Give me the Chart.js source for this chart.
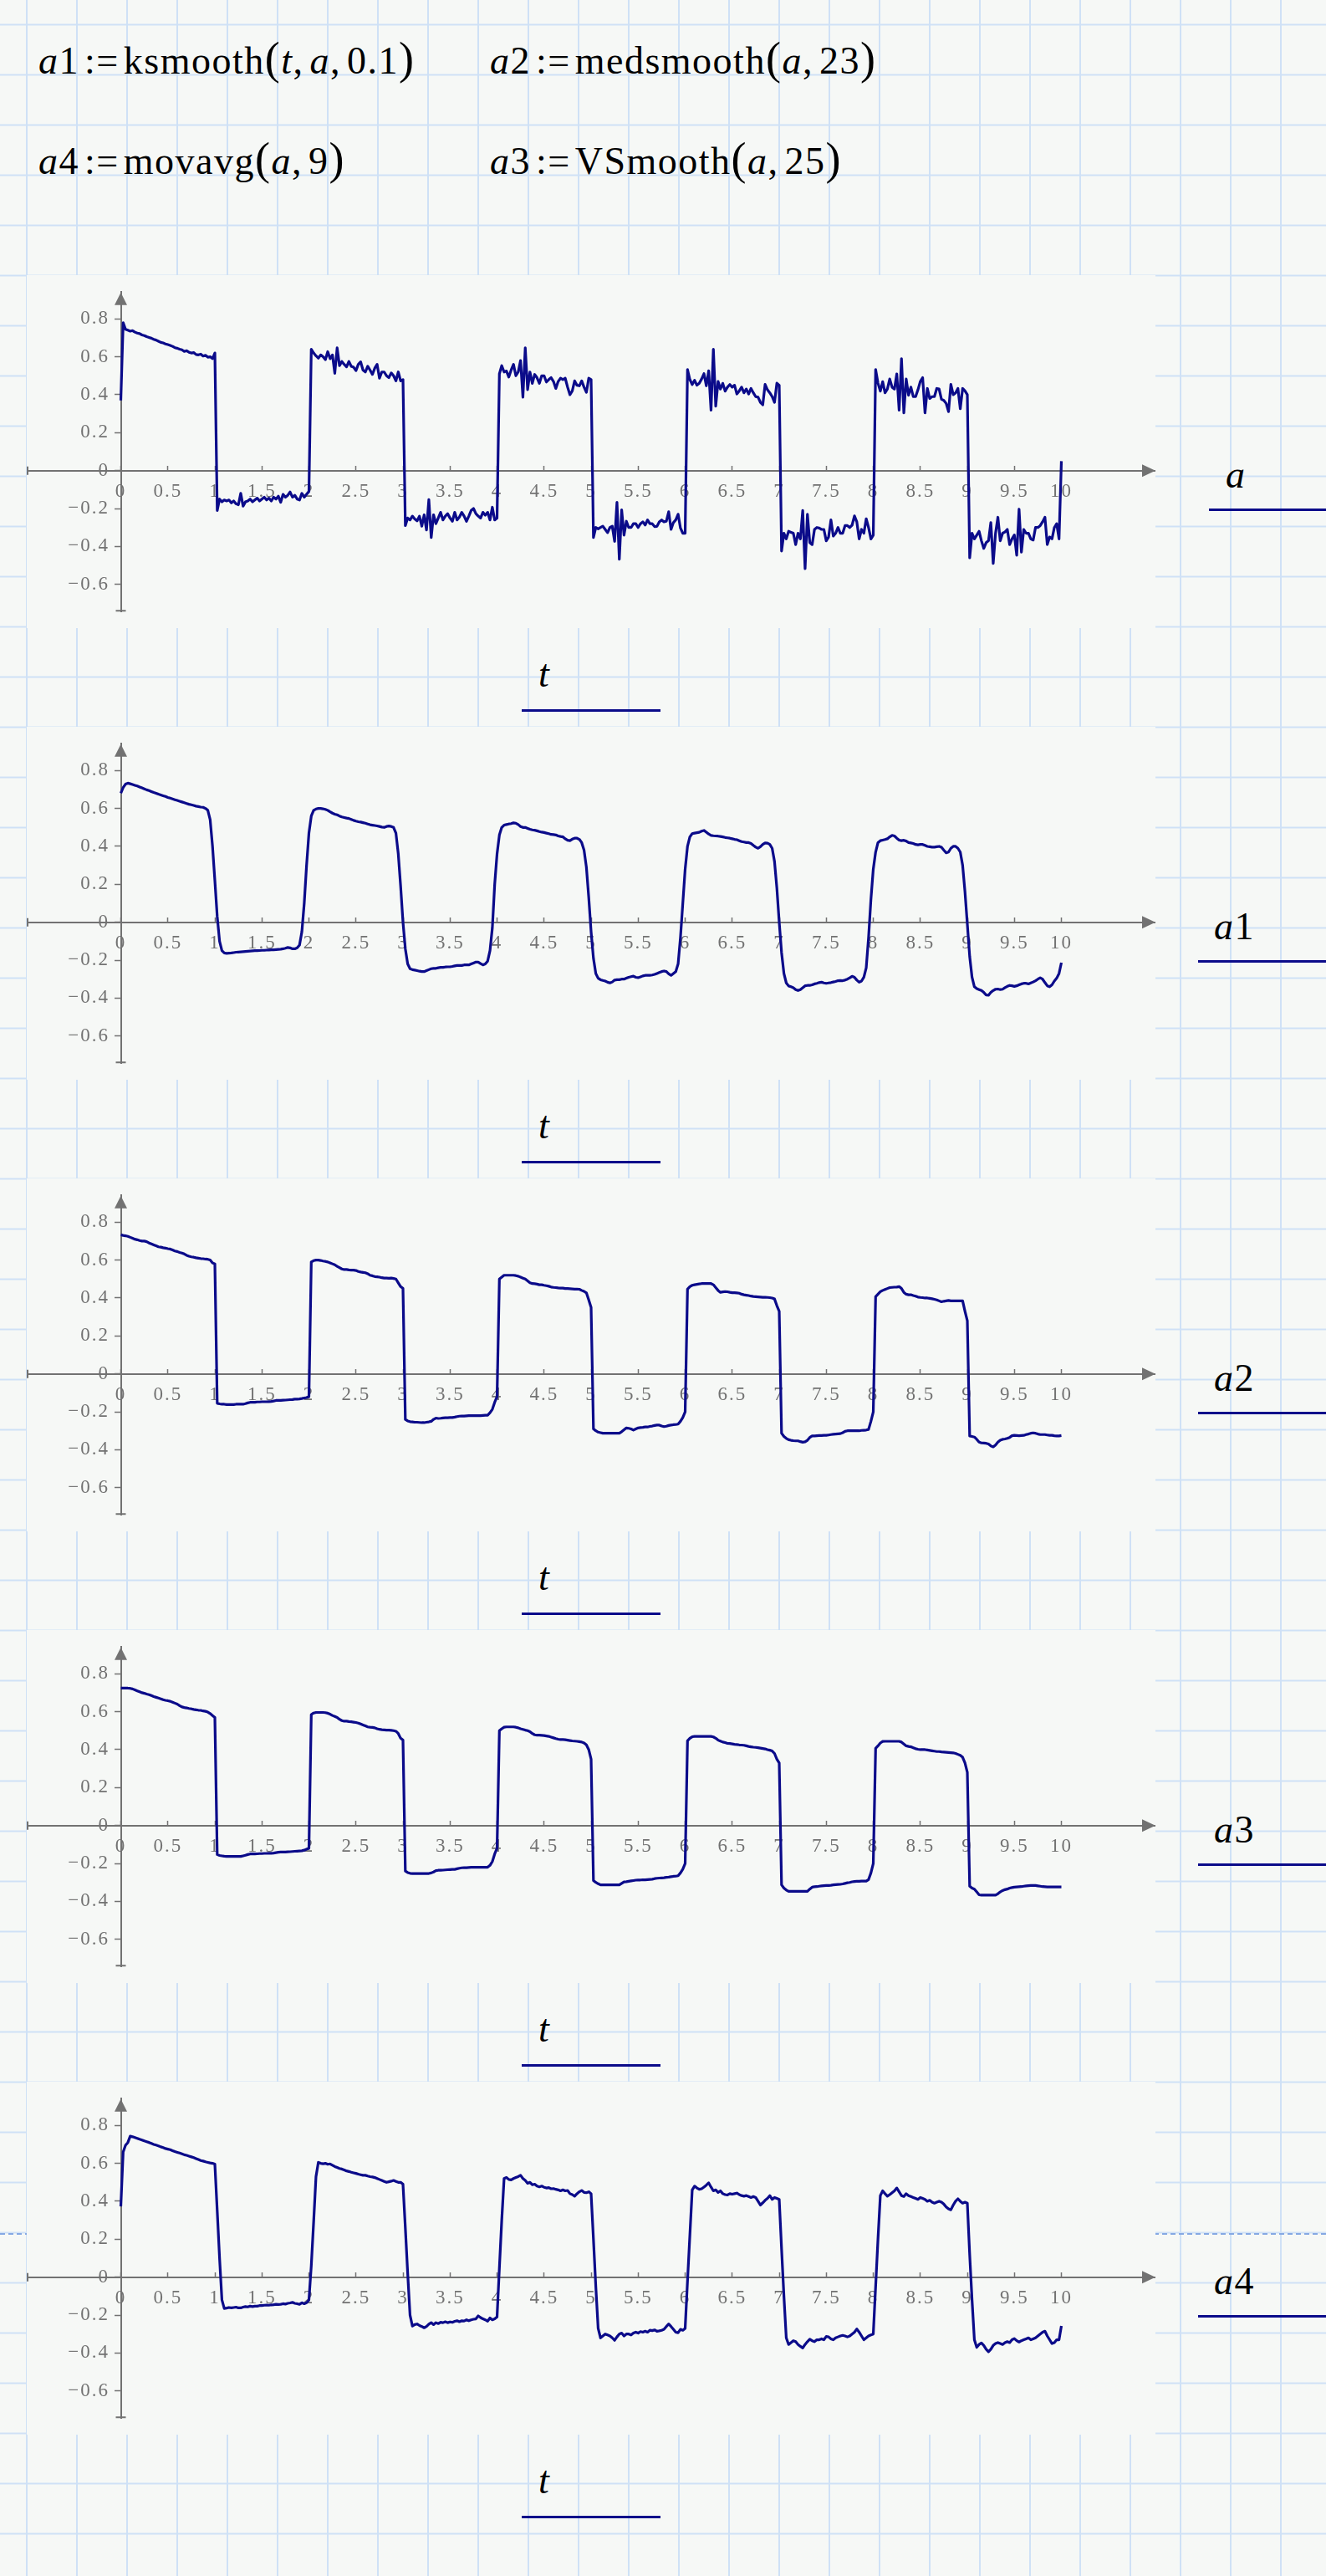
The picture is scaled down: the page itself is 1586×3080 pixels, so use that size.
<!DOCTYPE html>
<html>
<head>
<meta charset="utf-8">
<title>Smoothing</title>
<script src="https://cdn.jsdelivr.net/npm/chart.js@4.4.1/dist/chart.umd.min.js"></script>
<style>
  html, body { margin: 0; padding: 0; }
  body {
    width: 1586px; height: 3080px; position: relative; overflow: hidden;
    background-color: #f6f8f6;
    background-image:
      linear-gradient(to right, #cfe1f6 0, #cfe1f6 1.6px, transparent 1.6px),
      linear-gradient(to bottom, #cfe1f6 0, #cfe1f6 1.6px, transparent 1.6px);
    background-size: 60px 60px;
    background-position: 31px 28.5px;
    font-family: 'Liberation Serif', 'Times New Roman', serif;
    color: #000;
  }
  .eq, .lbl { position: absolute; font-size: 46px; line-height: 46px; white-space: nowrap; letter-spacing: 1.5px; }
  .op { margin: 0 5px 0 6px; }
  .par { font-size: 54px; line-height: 0; }
  .cm { margin-right: 7px; }
  .panel { position: absolute; left: 32px; width: 1350px; height: 422px; background: #f6f8f6; }
  .panel canvas { display: block; }
  .uline { position: absolute; height: 3px; background: #0b0b8a; }
  .pagebreak { position: absolute; left: 0; width: 1586px; top: 2670px; border-top: 2px dashed #86a9e4; }
</style>
</head>
<body>

<div class="eq" style="left:46px;top:50px"><i>a</i>1<span class="op">:=</span>ksmooth<span class="par">(</span><i>t</i><span class="cm">,</span><i>a</i><span class="cm">,</span>0.1<span class="par">)</span></div>
<div class="eq" style="left:586px;top:50px"><i>a</i>2<span class="op">:=</span>medsmooth<span class="par">(</span><i>a</i><span class="cm">,</span>23<span class="par">)</span></div>
<div class="eq" style="left:46px;top:170px"><i>a</i>4<span class="op">:=</span>movavg<span class="par">(</span><i>a</i><span class="cm">,</span>9<span class="par">)</span></div>
<div class="eq" style="left:586px;top:170px"><i>a</i>3<span class="op">:=</span>VSmooth<span class="par">(</span><i>a</i><span class="cm">,</span>25<span class="par">)</span></div>

<div class="pagebreak"></div>

<script>
// sampling step of the t axis (0 .. 10)
const T_STEP = 0.025;

// raw signal a, one row per unit of t
const A_RAW = [
  .37,.78,.745,.74,.735,.738,.73,.725,.722,.715,.712,.706,.702,.698,.692,.688,.682,.676,.673,.668,.664,.66,.655,.648,.645,.64,.637,.628,.632,.624,.62,.622,.612,.61,.614,.604,.608,.598,.6,.59,
  .62,-.21,-.15,-.165,-.155,-.16,-.155,-.17,-.16,-.175,-.18,-.12,-.187,-.165,-.16,-.15,-.165,-.155,-.145,-.16,-.15,-.14,-.155,-.145,-.16,-.14,-.15,-.135,-.167,-.125,-.14,-.13,-.113,-.14,-.13,-.15,-.155,-.12,-.14,-.125,
  -.11,.64,.62,.605,.593,.61,.6,.585,.627,.59,.61,.513,.647,.553,.575,.56,.547,.575,.55,.545,.527,.56,.573,.53,.52,.55,.53,.507,.54,.56,.487,.52,.52,.5,.49,.515,.5,.473,.52,.473,
  .48,-.29,-.25,-.26,-.24,-.255,-.265,-.24,-.293,-.233,-.313,-.153,-.353,-.233,-.28,-.25,-.22,-.26,-.24,-.227,-.25,-.267,-.22,-.26,-.245,-.22,-.24,-.267,-.24,-.21,-.2,-.227,-.24,-.25,-.22,-.235,-.22,-.26,-.193,-.26,
  -.25,.51,.553,.52,.525,.493,.53,.56,.5,.52,.58,.387,.647,.427,.52,.46,.507,.49,.46,.5,.5,.467,.48,.49,.47,.433,.47,.487,.48,.487,.44,.4,.42,.473,.45,.447,.473,.44,.413,.487,
  .48,-.353,-.3,-.307,-.3,-.293,-.31,-.327,-.3,-.293,-.373,-.167,-.467,-.207,-.34,-.267,-.3,-.3,-.28,-.28,-.3,-.28,-.27,-.287,-.26,-.28,-.28,-.295,-.294,-.27,-.26,-.27,-.267,-.217,-.31,-.274,-.26,-.23,-.303,-.33,
  -.33,.533,.48,.454,.476,.45,.46,.483,.511,.447,.526,.319,.64,.34,.47,.43,.46,.419,.44,.454,.44,.45,.404,.42,.44,.41,.43,.404,.433,.41,.39,.387,.36,.347,.454,.426,.41,.39,.36,.461,
  .45,-.424,-.33,-.36,-.32,-.325,-.33,-.39,-.33,-.36,-.21,-.517,-.23,-.38,-.39,-.31,-.3,-.303,-.31,-.31,-.37,-.35,-.26,-.345,-.33,-.3,-.33,-.33,-.29,-.29,-.3,-.287,-.239,-.27,-.36,-.31,-.33,-.254,-.3,-.36,
  -.34,.533,.461,.419,.469,.41,.43,.483,.44,.43,.51,.319,.59,.304,.483,.397,.44,.39,.39,.426,.47,.49,.304,.433,.38,.39,.39,.433,.43,.376,.37,.354,.311,.454,.4,.41,.433,.326,.433,.42,
  .4,-.46,-.33,-.36,-.34,-.32,-.37,-.41,-.38,-.37,-.274,-.489,-.33,-.246,-.37,-.33,-.324,-.31,-.39,-.36,-.339,-.446,-.203,-.43,-.31,-.33,-.33,-.36,-.366,-.3,-.3,-.29,-.27,-.246,-.39,-.35,-.36,-.3,-.28,-.36,
  .05
];

// a1 := ksmooth(t, a, 0.1)
const A1 = [
  .68,.71,.728,.733,.73,.726,.722,.718,.713,.708,.703,.698,.694,.689,.684,.68,.675,.671,.667,.663,.658,.654,.65,.646,.642,.638,.634,.63,.626,.622,.619,.616,.612,.61,.607,.606,.6,.59,.54,.4,
  .22,.03,-.1,-.15,-.162,-.164,-.163,-.162,-.16,-.158,-.157,-.156,-.155,-.154,-.153,-.152,-.151,-.15,-.15,-.149,-.148,-.148,-.147,-.146,-.145,-.145,-.144,-.143,-.142,-.14,-.137,-.133,-.135,-.14,-.14,-.135,-.12,-.05,.1,.3,
  .47,.56,.59,.597,.6,.6,.598,.595,.59,.582,.575,.57,.566,.56,.555,.552,.549,.547,.542,.537,.533,.53,.528,.525,.522,.518,.514,.512,.51,.508,.505,.502,.5,.505,.507,.505,.5,.47,.36,.19,
  0,-.14,-.22,-.245,-.25,-.252,-.255,-.258,-.26,-.26,-.255,-.25,-.245,-.243,-.243,-.24,-.238,-.238,-.236,-.235,-.235,-.233,-.23,-.228,-.228,-.228,-.225,-.225,-.225,-.22,-.215,-.21,-.21,-.218,-.225,-.22,-.205,-.15,-.03,.2,
  .36,.46,.5,.512,.515,.518,.52,.524,.522,.515,.505,.5,.5,.495,.49,.487,.485,.482,.478,.475,.473,.47,.467,.463,.462,.46,.455,.452,.45,.44,.432,.43,.438,.443,.443,.437,.42,.38,.29,.13,
  -.05,-.19,-.27,-.295,-.303,-.307,-.31,-.316,-.32,-.315,-.305,-.303,-.303,-.3,-.3,-.295,-.29,-.287,-.284,-.29,-.292,-.288,-.283,-.28,-.28,-.28,-.278,-.275,-.27,-.265,-.26,-.257,-.26,-.272,-.28,-.27,-.26,-.22,-.08,.1,
  .28,.4,.45,.467,.47,.472,.474,.48,.484,.475,.465,.458,.456,.455,.454,.452,.45,.447,.445,.443,.44,.437,.435,.43,.425,.423,.42,.42,.415,.405,.396,.39,.398,.41,.418,.417,.41,.39,.32,.18,
  0,-.16,-.27,-.32,-.336,-.34,-.345,-.355,-.36,-.355,-.345,-.335,-.333,-.333,-.33,-.325,-.322,-.318,-.316,-.32,-.322,-.32,-.318,-.315,-.312,-.308,-.307,-.308,-.305,-.3,-.293,-.285,-.29,-.305,-.316,-.31,-.29,-.24,-.08,.12,
  .28,.37,.42,.43,.433,.436,.44,.45,.458,.455,.443,.433,.43,.432,.428,.42,.418,.415,.41,.408,.41,.41,.405,.4,.398,.396,.396,.398,.4,.395,.38,.366,.37,.39,.4,.4,.39,.37,.3,.16,
  -.01,-.18,-.29,-.34,-.35,-.355,-.36,-.37,-.383,-.385,-.37,-.36,-.353,-.352,-.355,-.353,-.345,-.338,-.333,-.335,-.338,-.335,-.33,-.325,-.322,-.322,-.325,-.32,-.315,-.308,-.3,-.293,-.3,-.318,-.335,-.34,-.33,-.31,-.295,-.27,
  -.213
];

// a2 := medsmooth(a, 23)
const A2 = [
  .733,.73,.728,.725,.72,.715,.71,.707,.703,.7,.7,.697,.69,.685,.68,.675,.67,.668,.665,.663,.66,.658,.653,.648,.645,.64,.637,.632,.625,.62,.617,.615,.612,.61,.608,.607,.605,.604,.6,.585,
  .58,-.155,-.158,-.16,-.16,-.162,-.162,-.162,-.162,-.16,-.16,-.16,-.16,-.157,-.153,-.15,-.15,-.15,-.148,-.148,-.147,-.147,-.147,-.146,-.145,-.143,-.14,-.14,-.14,-.139,-.138,-.137,-.136,-.135,-.133,-.133,-.132,-.13,-.127,-.125,
  -.12,.59,.597,.6,.6,.598,.595,.593,.59,.585,.58,.575,.567,.56,.553,.55,.55,.548,.547,.547,.545,.54,.537,.535,.533,.528,.52,.517,.513,.512,.51,.507,.505,.505,.504,.505,.503,.5,.48,.46,
  .45,-.24,-.248,-.252,-.253,-.255,-.255,-.256,-.257,-.257,-.255,-.253,-.25,-.24,-.233,-.235,-.234,-.232,-.231,-.231,-.23,-.23,-.228,-.225,-.223,-.222,-.222,-.221,-.22,-.22,-.22,-.22,-.22,-.22,-.219,-.218,-.218,-.205,-.187,-.15,
  -.12,.5,.51,.52,.52,.52,.52,.52,.518,.515,.51,.505,.5,.49,.48,.476,.475,.473,.47,.47,.467,.465,.462,.458,.456,.455,.453,.452,.452,.45,.45,.449,.448,.447,.447,.446,.44,.435,.427,.39,
  .35,-.29,-.3,-.307,-.31,-.313,-.313,-.313,-.313,-.313,-.313,-.313,-.313,-.305,-.295,-.285,-.287,-.29,-.296,-.29,-.285,-.283,-.282,-.28,-.28,-.277,-.275,-.272,-.27,-.27,-.275,-.278,-.276,-.272,-.27,-.268,-.267,-.265,-.25,-.23,
  -.2,.447,.46,.467,.47,.472,.474,.476,.476,.476,.476,.476,.47,.455,.44,.43,.432,.434,.433,.43,.428,.428,.427,.425,.42,.417,.415,.413,.41,.408,.407,.406,.405,.404,.404,.403,.402,.4,.395,.36,
  .33,-.313,-.33,-.34,-.347,-.35,-.352,-.353,-.353,-.357,-.36,-.358,-.35,-.335,-.327,-.327,-.326,-.325,-.325,-.324,-.324,-.322,-.32,-.318,-.317,-.316,-.315,-.31,-.303,-.3,-.3,-.3,-.3,-.3,-.3,-.298,-.297,-.296,-.293,-.25,
  -.2,.407,.42,.433,.44,.445,.45,.455,.456,.457,.458,.46,.45,.43,.42,.417,.417,.413,.41,.405,.403,.402,.4,.4,.398,.396,.393,.39,.385,.38,.383,.385,.387,.385,.385,.385,.385,.385,.385,.33,
  .28,-.327,-.33,-.333,-.345,-.36,-.364,-.365,-.366,-.37,-.38,-.385,-.375,-.36,-.35,-.345,-.343,-.34,-.335,-.326,-.324,-.325,-.326,-.325,-.324,-.32,-.317,-.313,-.311,-.313,-.317,-.32,-.32,-.32,-.322,-.324,-.324,-.326,-.327,-.327,
  -.325
];

// a3 := VSmooth(a, 25)
const A3 = [
  .724,.724,.724,.724,.723,.72,.715,.71,.705,.7,.697,.693,.69,.685,.68,.676,.672,.668,.663,.66,.658,.655,.65,.645,.64,.632,.625,.622,.62,.617,.615,.612,.61,.608,.607,.604,.602,.598,.59,.58,
  .57,-.153,-.158,-.16,-.162,-.163,-.163,-.163,-.163,-.163,-.163,-.163,-.16,-.157,-.153,-.15,-.15,-.15,-.149,-.148,-.148,-.147,-.147,-.146,-.146,-.145,-.143,-.141,-.14,-.14,-.14,-.139,-.138,-.137,-.136,-.135,-.134,-.133,-.13,-.125,
  -.12,.585,.593,.596,.596,.596,.596,.595,.592,.587,.58,.575,.57,.56,.553,.55,.55,.548,.547,.545,.543,.54,.535,.53,.525,.52,.518,.517,.515,.51,.507,.505,.504,.503,.503,.502,.5,.497,.485,.46,
  .45,-.24,-.248,-.252,-.253,-.253,-.253,-.253,-.253,-.253,-.253,-.253,-.25,-.245,-.238,-.236,-.236,-.235,-.234,-.233,-.232,-.231,-.231,-.228,-.225,-.223,-.222,-.222,-.221,-.22,-.22,-.22,-.22,-.22,-.22,-.22,-.22,-.21,-.19,-.15,
  -.12,.5,.51,.518,.52,.52,.52,.52,.518,.515,.51,.507,.503,.5,.495,.485,.478,.476,.476,.475,.474,.472,.47,.466,.462,.458,.455,.453,.453,.452,.45,.448,.446,.445,.444,.442,.44,.435,.425,.4,
  .35,-.29,-.3,-.307,-.313,-.313,-.313,-.313,-.313,-.313,-.313,-.313,-.313,-.305,-.297,-.296,-.294,-.292,-.29,-.288,-.287,-.287,-.286,-.286,-.285,-.284,-.283,-.28,-.278,-.277,-.276,-.275,-.273,-.272,-.27,-.268,-.267,-.265,-.25,-.23,
  -.2,.447,.46,.468,.47,.47,.47,.47,.47,.47,.47,.47,.467,.46,.45,.445,.44,.437,.433,.432,.43,.428,.427,.425,.424,.423,.42,.417,.415,.413,.412,.41,.408,.406,.404,.4,.397,.393,.38,.35,
  .33,-.313,-.33,-.34,-.347,-.347,-.347,-.347,-.347,-.347,-.347,-.347,-.347,-.335,-.325,-.323,-.322,-.32,-.318,-.317,-.316,-.316,-.315,-.313,-.312,-.311,-.31,-.308,-.305,-.302,-.3,-.297,-.295,-.294,-.294,-.293,-.293,-.293,-.285,-.25,
  -.2,.407,.42,.435,.443,.444,.444,.444,.444,.444,.444,.444,.44,.43,.42,.417,.415,.41,.405,.402,.4,.4,.4,.398,.396,.394,.392,.39,.39,.388,.387,.386,.385,.384,.383,.38,.375,.37,.36,.33,
  .28,-.32,-.33,-.335,-.35,-.365,-.367,-.367,-.367,-.367,-.367,-.367,-.367,-.36,-.35,-.343,-.338,-.335,-.33,-.327,-.325,-.324,-.323,-.322,-.32,-.318,-.317,-.316,-.316,-.316,-.318,-.32,-.322,-.323,-.324,-.324,-.324,-.324,-.324,-.324,
  -.324
];

// a4 := movavg(a, 9)
const A4 = [
  .373,.66,.695,.71,.743,.74,.736,.732,.727,.723,.718,.714,.71,.705,.7,.696,.692,.687,.683,.678,.675,.672,.667,.662,.658,.654,.65,.645,.642,.638,.634,.63,.625,.62,.615,.612,.608,.605,.602,.6,
  .596,.35,.1,-.12,-.165,-.163,-.16,-.162,-.16,-.158,-.162,-.162,-.158,-.155,-.157,-.153,-.155,-.153,-.153,-.15,-.15,-.148,-.147,-.148,-.146,-.145,-.143,-.144,-.143,-.14,-.142,-.138,-.136,-.133,-.138,-.14,-.143,-.135,-.14,-.135,
  -.12,.06,.29,.53,.605,.6,.598,.6,.595,.597,.59,.583,.578,.573,.57,.565,.56,.557,.553,.55,.547,.543,.54,.537,.537,.533,.53,.528,.525,.52,.515,.51,.505,.5,.503,.506,.51,.505,.5,.5,
  .49,.26,.02,-.2,-.258,-.25,-.247,-.255,-.26,-.267,-.26,-.248,-.24,-.25,-.24,-.245,-.238,-.24,-.235,-.24,-.236,-.238,-.233,-.23,-.235,-.23,-.231,-.225,-.23,-.225,-.222,-.22,-.204,-.213,-.22,-.225,-.232,-.215,-.225,-.22,
  -.21,.05,.3,.52,.525,.515,.513,.52,.525,.53,.537,.52,.51,.495,.5,.487,.49,.48,.476,.48,.474,.47,.472,.466,.467,.463,.46,.455,.46,.455,.457,.44,.435,.427,.44,.45,.457,.447,.445,.45,
  .44,.2,-.05,-.27,-.32,-.31,-.3,-.305,-.31,-.32,-.333,-.315,-.3,-.295,-.31,-.3,-.3,-.305,-.295,-.29,-.295,-.287,-.29,-.285,-.29,-.28,-.282,-.278,-.285,-.283,-.28,-.275,-.26,-.247,-.26,-.275,-.29,-.293,-.275,-.28,
  -.27,-.02,.22,.46,.48,.47,.463,.466,.475,.485,.497,.475,.455,.46,.447,.455,.44,.435,.433,.44,.437,.44,.443,.435,.43,.427,.43,.425,.42,.425,.42,.4,.38,.392,.405,.415,.43,.41,.42,.415,
  .41,.15,-.1,-.32,-.355,-.345,-.335,-.34,-.355,-.365,-.373,-.355,-.34,-.327,-.335,-.34,-.33,-.33,-.325,-.33,-.313,-.315,-.325,-.33,-.32,-.315,-.31,-.307,-.31,-.315,-.31,-.3,-.29,-.273,-.29,-.31,-.33,-.32,-.31,-.305,
  -.3,-.05,.2,.43,.455,.44,.427,.435,.445,.455,.47,.45,.43,.425,.44,.43,.425,.42,.415,.41,.42,.415,.41,.4,.405,.395,.39,.395,.4,.395,.385,.37,.36,.355,.38,.4,.413,.4,.39,.395,
  .39,.12,-.12,-.33,-.37,-.355,-.347,-.36,-.38,-.393,-.38,-.36,-.35,-.345,-.35,-.355,-.345,-.34,-.345,-.33,-.324,-.335,-.342,-.335,-.33,-.325,-.32,-.33,-.325,-.32,-.31,-.3,-.29,-.285,-.31,-.33,-.35,-.345,-.33,-.33,
  -.257
];

// axis ticks and ranges
const X_TICKS = [0, 0.5, 1, 1.5, 2, 2.5, 3, 3.5, 4, 4.5, 5, 5.5, 6, 6.5, 7, 7.5, 8, 8.5, 9, 9.5, 10];
const Y_TICKS = [-0.6, -0.4, -0.2, 0, 0.2, 0.4, 0.6, 0.8];
const X_MIN = -1, X_MAX = 11;
const Y_MIN = -0.743, Y_MAX = 0.943;

// plot names, top to bottom
const PLOT_NAMES = ['a', 'a1', 'a2', 'a3', 'a4'];
const PLOT_SERIES = [A_RAW, A1, A2, A3, A4];

const LINE_COLOR = '#0b0b8a';
const AXIS_COLOR = '#727272';
const TICK_FONT = { family: "'Liberation Serif', serif", size: 23 };
const PLOT_TOP = 329;
const PLOT_GAP = 540;

function tickText(v) {
    if (v === 0) return '0';
    return (v < 0 ? '\u2212' : '') + String(Math.abs(v));
}

// arrows and end caps on the axes
const axisDecor = {
    id: 'axisDecor',
    beforeDraw(chart) {
        chart.ctx.letterSpacing = '2px';
    },
    afterDraw(chart) {
        const ctx = chart.ctx;
        const sx = chart.scales.x, sy = chart.scales.y;
        const x0 = sx.getPixelForValue(0), y0 = sy.getPixelForValue(0);
        const xa = sx.getPixelForValue(X_MIN), xb = sx.getPixelForValue(X_MAX);
        const ya = sy.getPixelForValue(Y_MIN), yb = sy.getPixelForValue(Y_MAX);
        ctx.save();
        ctx.fillStyle = AXIS_COLOR;
        ctx.strokeStyle = AXIS_COLOR;
        ctx.lineWidth = 2;
        ctx.beginPath();
        ctx.moveTo(xb, y0);
        ctx.lineTo(xb - 16, y0 - 7.5);
        ctx.lineTo(xb - 16, y0 + 7.5);
        ctx.closePath();
        ctx.fill();
        ctx.beginPath();
        ctx.moveTo(x0, yb + 1);
        ctx.lineTo(x0 - 7.5, yb + 16);
        ctx.lineTo(x0 + 7.5, yb + 16);
        ctx.closePath();
        ctx.fill();
        ctx.beginPath();
        ctx.moveTo(xa + 1, y0 - 5);
        ctx.lineTo(xa + 1, y0 + 5);
        ctx.moveTo(x0 - 6, ya - 1);
        ctx.lineTo(x0 + 6, ya - 1);
        ctx.stroke();
        ctx.restore();
    }
};

function makePlot(k) {
    const top = PLOT_TOP + k * PLOT_GAP;
    const values = PLOT_SERIES[k];
    const points = values.map((v, i) => ({ x: i * T_STEP, y: v }));

    const panel = document.createElement('div');
    panel.className = 'panel';
    panel.style.top = top + 'px';
    const canvas = document.createElement('canvas');
    canvas.width = 1350;
    canvas.height = 422;
    panel.appendChild(canvas);
    document.body.appendChild(panel);

    // name of the plotted vector on the right
    const name = PLOT_NAMES[k];
    const lbl = document.createElement('div');
    lbl.className = 'lbl';
    lbl.style.left = (k === 0 ? 1466 : 1452) + 'px';
    lbl.style.top = (top + 216) + 'px';
    lbl.innerHTML = '<i>a</i>' + name.slice(1);
    document.body.appendChild(lbl);
    const ul = document.createElement('div');
    ul.className = 'uline';
    ul.style.left = (k === 0 ? 1446 : 1433) + 'px';
    ul.style.width = (k === 0 ? 140 : 153) + 'px';
    ul.style.top = (top + 279) + 'px';
    document.body.appendChild(ul);

    // t under the plot
    const tl = document.createElement('div');
    tl.className = 'lbl';
    tl.style.left = '644px';
    tl.style.top = (top + 454) + 'px';
    tl.innerHTML = '<i>t</i>';
    document.body.appendChild(tl);
    const tu = document.createElement('div');
    tu.className = 'uline';
    tu.style.left = '624px';
    tu.style.width = '166px';
    tu.style.top = (top + 519) + 'px';
    document.body.appendChild(tu);

    new Chart(canvas.getContext('2d'), {
        type: 'line',
        data: {
            datasets: [{
                data: points,
                borderColor: LINE_COLOR,
                borderWidth: 3.2,
                borderJoinStyle: 'round',
                pointRadius: 0,
                tension: 0,
                fill: false
            }]
        },
        options: {
            responsive: false,
            animation: false,
            devicePixelRatio: 1,
            events: [],
            layout: { padding: 0 },
            plugins: { legend: { display: false }, tooltip: { enabled: false } },
            scales: {
                x: {
                    type: 'linear',
                    min: X_MIN,
                    max: X_MAX,
                    position: { y: 0 },
                    afterBuildTicks: s => { s.ticks = X_TICKS.map(v => ({ value: v })); },
                    grid: { drawOnChartArea: false, drawTicks: true, tickLength: -7, tickWidth: 1.5, tickColor: AXIS_COLOR },
                    border: { display: true, color: AXIS_COLOR, width: 2 },
                    ticks: {
                        autoSkip: false,
                        maxRotation: 0,
                        padding: 18,
                        color: AXIS_COLOR,
                        font: TICK_FONT,
                        callback: v => tickText(v)
                    }
                },
                y: {
                    type: 'linear',
                    min: Y_MIN,
                    max: Y_MAX,
                    position: { x: 0 },
                    afterBuildTicks: s => { s.ticks = Y_TICKS.map(v => ({ value: v })); },
                    grid: { drawOnChartArea: false, drawTicks: true, tickLength: 7, tickWidth: 1.5, tickColor: AXIS_COLOR },
                    border: { display: true, color: AXIS_COLOR, width: 2 },
                    ticks: {
                        autoSkip: false,
                        padding: 6,
                        color: AXIS_COLOR,
                        font: TICK_FONT,
                        // keep the label clear of the axis line
                        callback: v => tickText(v) + '\u2002'
                    }
                }
            }
        },
        plugins: [axisDecor]
    });
}

for (let k = 0; k < PLOT_SERIES.length; k++) {
    makePlot(k);
}
</script>
</body>
</html>
